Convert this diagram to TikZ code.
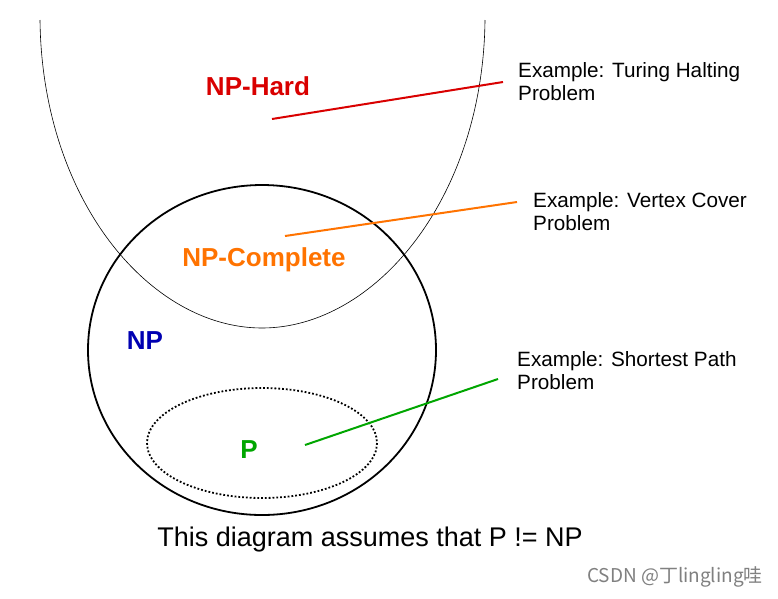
\documentclass[tikz,border=0pt]{standalone}
\usepackage{fontspec}
\usetikzlibrary{shapes.geometric}
\setmainfont{Liberation Sans}
\newfontfamily\cjk{Noto Sans CJK SC}
\begin{document}
\begin{tikzpicture}[x=1pt,y=-1pt,
  lbl/.style={font=\bfseries\fontsize{26}{28}\selectfont},
  ex/.style={font=\fontsize{20.7}{23}\selectfont,align=left,anchor=north west,inner sep=0pt},
  conn/.style={line width=2pt}]
\useasboundingbox[fill=white] (0,0) rectangle (778,598);
\draw[line width=0.6pt] (40,20) .. controls (42,200) and (150,328) .. (262,328) .. controls (374,328) and (483,200) .. (485,20);
\node[draw,line width=1.8pt,ellipse,minimum width=348pt,minimum height=330pt,inner sep=0pt] (np) at (262,350) {};
\draw[line width=1.8pt,dotted] (262,443) ellipse (115 and 55);
\node[lbl,text=red!85!black] (nph) at (258,86) {NP-Hard};
\node[lbl,text=orange!90!red] (npc) at (264,260) {NP-Complete};
\node[lbl,text=blue!70!black] (npl) at (145,341) {NP};
\node[lbl,text=green!65!black] (p) at (249,450) {P};
\node[ex] (e1) at (518,62) {Example: Turing Halting\\Problem};
\node[ex] (e2) at (533,192) {Example: Vertex Cover\\Problem};
\node[ex] (e3) at (517,351) {Example: Shortest Path\\Problem};
\coordinate (a1) at (272,119); \coordinate (b1) at (503,82);
\coordinate (a2) at (285,236); \coordinate (b2) at (517,202);
\coordinate (a3) at (305,445); \coordinate (b3) at (498,379);
\draw[conn,red!85!black] (a1) -- (b1);
\draw[conn,orange!90!red] (a2) -- (b2);
\draw[conn,green!65!black] (a3) -- (b3);
\node[font=\fontsize{27}{29}\selectfont] (cap) at (370,540) {This diagram assumes that P != NP};
\node[font=\cjk\fontsize{19}{21}\selectfont,text=gray] (wm) at (675,577) {CSDN @丁lingling哇};
\end{tikzpicture}
\end{document}
